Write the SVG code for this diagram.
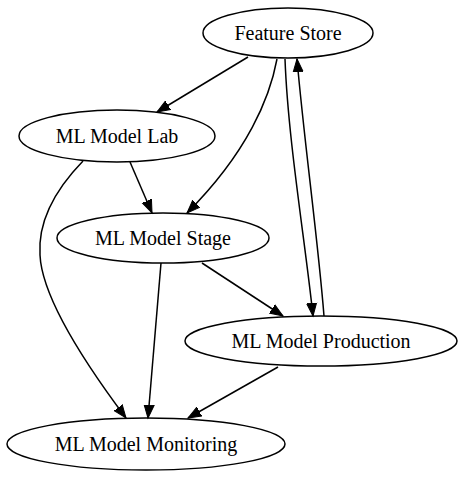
<svg xmlns="http://www.w3.org/2000/svg" width="474" height="478" viewBox="0 0 474 478">
<style>
.node ellipse{fill:none;stroke:#000;stroke-width:1.5}
.node text{font-family:"Liberation Serif","Times New Roman",serif;font-size:20px;text-anchor:middle;fill:#000}
.edges path{fill:none;stroke:#000;stroke-width:1.5}
</style>
<defs>
<marker id="ah" markerUnits="userSpaceOnUse" markerWidth="16" markerHeight="14" viewBox="0 -7 16 14" refX="13" refY="0" orient="auto">
<path d="M0,-5 L13,0 L0,5 z" fill="#000" stroke="#000" stroke-width="1"/>
</marker>
</defs>
<rect width="474" height="478" fill="#fff"/>
<g class="edges">
<path d="M248,57 L157,112" marker-end="url(#ah)"/>
<path d="M277,59 C270,97 248,152 187,213" marker-end="url(#ah)"/>
<path d="M285,59 C288,140 305,240 313,316" marker-end="url(#ah)"/>
<path d="M324,316 C318,240 304,140 297,59" marker-end="url(#ah)"/>
<path d="M130,162 L152,213" marker-end="url(#ah)"/>
<path d="M83,161 C50,195 38,225 40,255 C42,300 90,370 126,418" marker-end="url(#ah)"/>
<path d="M161,263 L148,418" marker-end="url(#ah)"/>
<path d="M202,263 L283,316" marker-end="url(#ah)"/>
<path d="M278,367 L188,418" marker-end="url(#ah)"/>
</g>
<g id="feature-store" class="node"><ellipse cx="288" cy="33" rx="85" ry="25"/><text x="288" y="39.5">Feature Store</text></g>
<g id="ml-model-lab" class="node"><ellipse cx="117" cy="136" rx="98" ry="26"/><text x="117" y="142.5">ML Model Lab</text></g>
<g id="ml-model-stage" class="node"><ellipse cx="163" cy="238" rx="106" ry="25"/><text x="163" y="244.5">ML Model Stage</text></g>
<g id="ml-model-production" class="node"><ellipse cx="321" cy="341" rx="136" ry="25"/><text x="321" y="347.5">ML Model Production</text></g>
<g id="ml-model-monitoring" class="node"><ellipse cx="146" cy="444" rx="139" ry="26"/><text x="146" y="450.5">ML Model Monitoring</text></g>
</svg>
